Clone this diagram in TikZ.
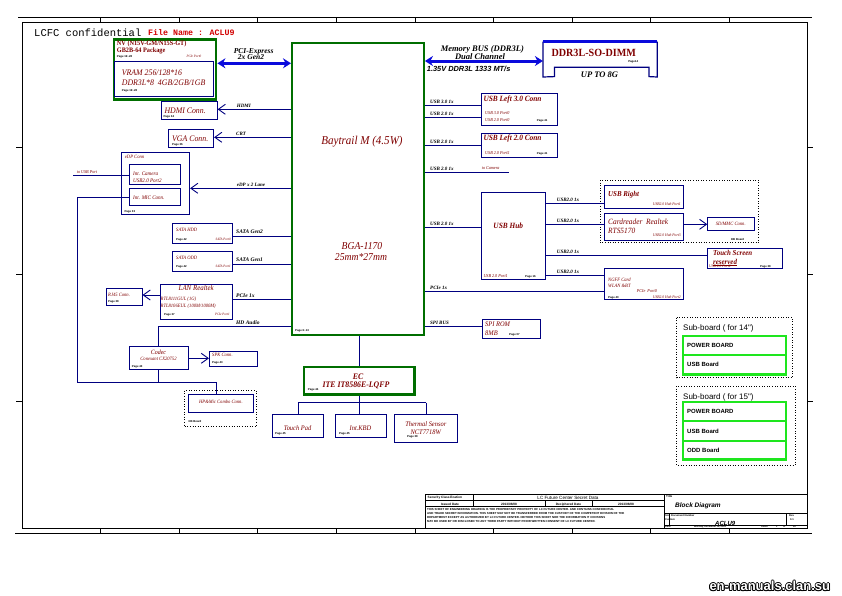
\documentclass[tikz,border=0pt]{standalone}
\usepackage{fontspec}
\setmainfont{Liberation Serif}
\newfontfamily\tms[FakeStretch=0.92]{Liberation Serif}
\newfontfamily\arl{Liberation Sans}
\newfontfamily\cour{Liberation Mono}
\usetikzlibrary{arrows.meta}
\newcommand\fsz[1]{\fontsize{#1}{#1}\selectfont}
\definecolor{lnblue}{RGB}{0,0,128}
\definecolor{dred}{RGB}{128,0,0}
\definecolor{dgreen}{RGB}{0,110,0}
\definecolor{bgreen}{RGB}{30,230,30}
\definecolor{arrblue}{RGB}{10,10,220}
\definecolor{fred}{RGB}{210,0,0}
\tikzset{
  bx/.style={draw=lnblue, line width=0.8pt, inner sep=0pt, anchor=north west},
  gbx/.style={draw=dgreen, line width=2.4pt, inner sep=0pt, anchor=north west},
  sbx/.style={draw=bgreen, line width=2.4pt, inner sep=0pt, anchor=north west, minimum width=103.3pt},
  dotbx/.style={draw=black, dotted, line width=0.6pt},
  ln/.style={draw=lnblue, line width=0.9pt},
  oarr/.style={ln, -{Straight Barb[length=7pt,width=10pt,line width=0.9pt]}},
  barr/.style={draw=arrblue, line width=3pt, {Stealth[length=8pt,width=10pt]}-{Stealth[length=8pt,width=10pt]}},
  ttl/.style={text=dred, font=\tms\itshape\fsz{#1}, inner sep=0pt, anchor=base west},
  ttl/.default=8.5,
  bt/.style={text=dred, font=\tms\bfseries\itshape\fsz{#1}, inner sep=0pt, anchor=base west},
  bt/.default=8,
  btu/.style={text=dred, font=\tms\bfseries\fsz{#1}, inner sep=0pt, anchor=base west},
  lbl/.style={text=black, font=\rmfamily\bfseries\itshape\fsz{#1}, inner sep=0pt, anchor=base west},
  lbl/.default=5,
  sm/.style={text=dred, font=\tms\itshape\fsz{#1}, inner sep=0pt, anchor=base west},
  sm/.default=4,
  pg/.style={text=black, font=\arl\bfseries\fsz{2.8}, inner sep=0pt, anchor=base west},
  tbt/.style={text=black, font=\arl\bfseries\fsz{#1}, inner sep=0pt, anchor=base west},
  tbt/.default=3,
  subh/.style={text=black, font=\arl\fsz{8}, inner sep=0pt, anchor=base west},
  sbt/.style={text=black, font=\arl\bfseries\fsz{6}, inner sep=0pt, anchor=base west},
  wm/.style={font=\arl\bfseries\fsz{13}, inner sep=0pt, anchor=base west},
  frm/.style={draw=black, line width=0.7pt},
}
\begin{document}
\begin{tikzpicture}[x=1pt,y=-1pt]
\useasboundingbox[fill=white] (0,0) rectangle (842,595);
% frame
\draw[frm] (22.3,22.3) rectangle (807,528.3);
\draw[frm] (18,17.3) -- (812,17.3);
\draw[frm] (15,533.8) -- (812,533.8);
\foreach \x in {100.6,179.2,257.8,336.4,415,493.6,572.2,650.8,729.4}{
  \draw[frm] (\x,17.3) -- (\x,22.3);
  \draw[frm] (\x,533.8) -- (\x,528.3);
}
\foreach \y in {147.5,274,401}{
  \draw[frm] (22.3,\y) -- (16,\y);
  \draw[frm] (807,\y) -- (813,\y);
}
\node[font=\cour\fsz{10.5}, inner sep=0pt, anchor=base west] (lcfc) at (34,36) {LCFC confidential};
\node[font=\cour\bfseries\fsz{8.3}, text=fred, inner sep=0pt, anchor=base west] (fname) at (148,35) {File Name : ACLU9};

% GPU
\node[gbx, minimum width=102.3pt, minimum height=60pt] (gpu) at (112.7,38.3) {};
\node[btu=6.8] (gpu1) at (116.7,45.2) {NV (N15V-GM/N15S-GT)};
\node[btu=6.8] (gpu2) at (116.7,52.3) {GB2B-64 Package};
\node[pg] (gpu3) at (116.7,57.7) {Page 19\textasciitilde28};
\node[sm=3.5, anchor=base east] (gpu4) at (201.5,57.7) {PCIe Port0};
\node[bx, minimum width=98.7pt, minimum height=35.3pt] (vram) at (114,60.7) {};
\node[ttl=8.5] (vram1) at (121.7,75) {VRAM 256/128*16};
\node[ttl=8.5] (vram2) at (121.7,85.7) {DDR3L*8~~4GB/2GB/1GB};
\node[pg] (vram3) at (121.7,91.3) {Page 19\textasciitilde28};

% Baytrail
\node[gbx, minimum width=131.5pt, minimum height=292pt] (bay) at (291,42) {};
\node[ttl=12, anchor=base] (bayT) at (362,144) {Baytrail M (4.5W)};
\node[ttl=10.5, anchor=base] (bga1) at (362,249) {BGA-1170};
\node[ttl=10.5, anchor=base] (bga2) at (361,260) {25mm*27mm};
\node[pg] (bayP) at (295,331.5) {Page 6\textasciitilde13};

\draw[barr] (gpu.east |- 0,63.3) -- (bay.west |- 0,63.3);
\node[lbl=7.5, anchor=base] (pci1) at (253.7,53.5) {PCI-Express};
\node[lbl=7.5, anchor=base] (pci2) at (251,59.5) {2x Gen2};

% DDR
\node[inner sep=0pt, anchor=north west, minimum width=114pt, minimum height=34.9pt] (ddr) at (542.9,41.7) {};
\draw[barr] (bay.east |- 0,61) -- (ddr.west |- 0,61);
\node[lbl=8.5, anchor=base] (mem1) at (482.3,51.7) {Memory BUS (DDR3L)};
\node[lbl=8.5, anchor=base] (mem2) at (480,59) {Dual Channel};
\node[text=black, font=\arl\bfseries\itshape\fsz{7.4}, inner sep=0pt, anchor=base west] (mem3) at (426.7,71.5) {1.35V DDR3L 1333 MT/s};
\draw[draw=lnblue, line width=1.2pt] (ddr.north west) -- (ddr.south west) -- (554.5,76.6) -- (554.5,67.2) -- (648.9,67.2) -- (648.9,76.6) -- (ddr.south east) -- (ddr.north east);
\draw[draw=arrblue, line width=2.5pt] (ddr.north west) -- (ddr.north east);
\node[btu=11, anchor=base] (ddrT) at (593.7,56.7) {DDR3L-SO-DIMM};
\node[pg, anchor=base east] (ddrP) at (638.3,62.6) {Page14};
\node[lbl=8.5, anchor=base] (ddrU) at (599.5,77.7) {UP TO 8G};

% HDMI
\node[bx, minimum width=56.2pt, minimum height=17.5pt] (hdmi) at (160.6,101.4) {};
\node[ttl=8.5] (hdmiT) at (164.3,113.3) {HDMI Conn.};
\node[pg] (hdmiP) at (163.3,117.7) {Page 34};
\draw[oarr] (bay.west |- 0,109.3) -- (hdmi.east |- 0,109.3);
\node[lbl=5] (hdmiL) at (236.7,107.3) {HDMI};
% VGA
\node[bx, minimum width=45pt, minimum height=18.3pt] (vga) at (168.3,129) {};
\node[ttl=8.5] (vgaT) at (172,141.7) {VGA Conn.};
\node[pg] (vgaP) at (172,145.7) {Page 36};
\draw[oarr] (bay.west |- 0,137.3) -- (vga.east |- 0,137.3);
\node[lbl=5] (vgaL) at (236,135) {CRT};
% eDP
\node[bx, minimum width=68.3pt, minimum height=62pt] (edp) at (121,152.3) {};
\node[sm=5] (edpT) at (124.7,158.3) {eDP Conn};
\node[bx, minimum width=51pt, minimum height=20pt] (cam) at (129,164.3) {};
\node[sm=5.5] (cam1) at (133,175) {Int. Camera};
\node[sm=5.5] (cam2) at (133,182.3) {USB2.0 Port2};
\node[bx, minimum width=51pt, minimum height=16.7pt] (mic) at (129,188.3) {};
\node[sm=5.5] (micT) at (133,199) {Int. MIC Conn.};
\node[pg] (edpP) at (124.3,212.7) {Page 33};
\coordinate (usbfree) at (73.3,175.5);
\draw[ln] (usbfree) -- (usbfree -| cam.west);
\node[sm=4.5] (usbL) at (76.7,173.7) {to USB Port};
\draw[oarr] (bay.west |- 0,188.3) -- (edp.east |- 0,188.3);
\node[lbl=5] (edpL) at (236.7,186.7) {eDP x 2 Lane};
% SATA
\node[bx, minimum width=60pt, minimum height=20pt] (hdd) at (172.3,223.3) {};
\node[sm=5] (hddT) at (176,231.7) {SATA HDD};
\node[pg] (hddP) at (176,240) {Page 42};
\node[sm=3.5, anchor=base east] (hddS) at (231,240) {SATA Port0};
\draw[ln] (hdd.east |- 0,236) -- (bay.west |- 0,236);
\node[lbl=5.5] (hddL) at (236,233) {SATA Gen2};
\node[bx, minimum width=60pt, minimum height=20pt] (odd) at (172.3,251) {};
\node[sm=5] (oddT) at (176,259.3) {SATA ODD};
\node[pg] (oddP) at (176,267.7) {Page 42};
\node[sm=3.5, anchor=base east] (oddS) at (231,267.7) {SATA Port1};
\draw[ln] (odd.east |- 0,264.3) -- (bay.west |- 0,264.3);
\node[lbl=5.5] (oddL) at (236,261) {SATA Gen1};
% LAN
\node[bx, minimum width=36pt, minimum height=17.3pt] (rj) at (105.7,287.7) {};
\node[sm=5] (rjT) at (108,296.7) {RJ45 Conn.};
\node[pg] (rjP) at (108,302.7) {Page 38};
\node[bx, minimum width=72.3pt, minimum height=35.3pt] (lan) at (160,284) {};
\node[ttl=7.5, anchor=base] (lanT) at (196.2,290.5) {LAN Realtek};
\node[sm=5] (lan1) at (160.5,300) {RTL8111GUL (1G)};
\node[sm=5] (lan2) at (160.5,307.7) {RTL8106EUL (100M/1000M)};
\node[pg] (lanP) at (164,315) {Page 37};
\node[sm=3.5, anchor=base east] (lanS) at (230,315) {PCIe Port1};
\draw[oarr] (lan.west |- 0,295) -- (rj.east |- 0,295);
\draw[ln] (lan.east |- 0,299) -- (bay.west |- 0,299);
\node[lbl=5.5] (lanL) at (236,297) {PCIe 1x};
% Audio
\node[bx, minimum width=58.4pt, minimum height=23pt] (codec) at (129.3,346) {};
\node[ttl=6.5, anchor=base] (codT) at (158.5,354.3) {Codec};
\node[sm=5, anchor=base] (cod2) at (158.5,360.3) {Conexant CX20752};
\node[pg] (codP) at (131.7,367) {Page 43};
\node[bx, minimum width=47.7pt, minimum height=15pt] (spk) at (209,350.7) {};
\node[sm=5] (spkT) at (212,356.3) {SPK Conn.};
\node[pg] (spkP) at (212,363.3) {Page 43};
\draw[oarr] (codec.east |- 0,358.3) -- (spk.west |- 0,358.3);
\draw[ln] (bay.west |- 0,326.7) -| (codec.north);
\node[lbl=5.5] (audL) at (236,324) {HD Audio};
\draw[dotbx] (184.3,390.7) rectangle (256,426.7);
\node[bx, minimum width=64.4pt, minimum height=18pt] (hpm) at (188.3,394.3) {};
\node[sm=5, anchor=base] (hpmT) at (hpm.center) {HP\&Mic Combo Conn.};
\node[pg] (hpmP) at (188.3,422.3) {DB Board};
\draw[ln] (mic.west) -- (77.3,0 |- mic.west) -- (77.3,382.3) -- (216,382.3) -- (216,0 |- hpm.north);
\draw[ln] (codec.south) -- (codec.south |- 0,382.3);

% USB left
\node[bx, minimum width=75.7pt, minimum height=31.7pt] (usb3) at (481,93.3) {};
\node[bt=8] (usb3T) at (483.3,101) {USB Left 3.0 Conn};
\node[sm=4.5] (usb31) at (485,114.3) {USB 3.0 Port0};
\node[sm=4.5] (usb32) at (485,121) {USB 2.0 Port0};
\node[pg] (usb3P) at (536.7,121) {Page 41};
\draw[ln] (bay.east |- 0,105) -- (usb3.west |- 0,105);
\draw[ln] (bay.east |- 0,117.3) -- (usb3.west |- 0,117.3);
\node[lbl=5] (usb3L1) at (430,103.3) {USB 3.0 1x};
\node[lbl=5] (usb3L2) at (430,115.3) {USB 2.0 1x};
\node[bx, minimum width=75.7pt, minimum height=23.3pt] (usb2) at (481,133.3) {};
\node[bt=8] (usb2T) at (483.3,140.5) {USB Left 2.0 Conn};
\node[sm=4.5] (usb21) at (485,154.3) {USB 2.0 Port5};
\node[pg] (usb2P) at (536.7,154.3) {Page 41};
\draw[ln] (bay.east |- 0,145) -- (usb2.west |- 0,145);
\node[lbl=5] (usb2L) at (430,143) {USB 2.0 1x};
\coordinate (camfree) at (509.3,172.7);
\draw[ln] (bay.east |- camfree) -- (camfree);
\node[lbl=5] (camL) at (430,170.7) {USB 2.0 1x};
\node[sm=4.5] (camT) at (481.7,169.3) {to Camera};

% USB hub
\node[bx, minimum width=64pt, minimum height=86.7pt] (hub) at (481,192.3) {};
\node[bt=8, anchor=base] (hubT) at (508.3,228.3) {USB Hub};
\node[sm=4.5] (hub1) at (483.3,277.3) {USB 2.0 Port1};
\node[pg] (hubP) at (525,277.3) {Page 16};
\draw[ln] (bay.east |- 0,227.7) -- (hub.west |- 0,227.7);
\node[lbl=5] (hubL) at (430,225.7) {USB 2.0 1x};
\draw[dotbx] (600,180) rectangle (758.3,242.7);
\node[bx, minimum width=79pt, minimum height=23.3pt] (usbr) at (604.3,185) {};
\node[bt=7.5] (usbrT) at (608,196) {USB Right};
\node[sm=4, anchor=base east] (usbr1) at (681,205.7) {USB2.0 Hub Port1};
\node[bx, minimum width=79pt, minimum height=27.3pt] (card) at (604.3,212.7) {};
\node[ttl=8] (card1) at (608,224.3) {Cardreader~~Realtek};
\node[ttl=8] (card2) at (608,233.3) {RTS5170};
\node[sm=4, anchor=base east] (card3) at (681,236.7) {USB2.0 Hub Port3};
\node[bx, minimum width=46.7pt, minimum height=13.3pt] (sd) at (707.3,216.7) {};
\node[sm=5, anchor=base] (sdT) at (730.7,225.3) {SD/MMC Conn.};
\node[pg] (sdP) at (731,240.7) {DB Board};
\draw[oarr] (card.east |- 0,224.3) -- (sd.west |- 0,224.3);
\node[bx, minimum width=75pt, minimum height=20.7pt] (ts) at (707.3,247.7) {};
\node[bt=7.5] (ts1) at (713,255) {Touch Screen};
\node[bt=7.5] (ts2) at (713,264) {\underline{reserved}};
\node[sm=4] (ts3) at (709,267.7) {USB 2.0 Port2};
\node[pg] (tsP) at (760,267.7) {Page 38};
\node[bx, minimum width=79pt, minimum height=31.6pt] (ngff) at (604.3,267.7) {};
\node[sm=5] (ng1) at (608,281) {NGFF Card};
\node[sm=5] (ng2) at (608,287.7) {WLAN \&BT};
\node[sm=4.5] (ng3) at (636.7,292.7) {PCIe~ Port0};
\node[pg] (ngP) at (608,298.3) {Page 40};
\node[sm=4, anchor=base east] (ng4) at (681,298.3) {USB2.0 Hub Port2};
\draw[ln] (hub.east |- 0,203.3) -- (usbr.west |- 0,203.3);
\node[lbl=5] (hl1) at (556.7,201.3) {USB2.0 1x};
\draw[ln] (hub.east |- 0,224) -- (card.west |- 0,224);
\node[lbl=5] (hl2) at (556.7,222) {USB2.0 1x};
\draw[ln] (hub.east |- 0,255) -- (ts.west |- 0,255);
\node[lbl=5] (hl3) at (556.7,253) {USB2.0 1x};
\draw[ln] (hub.east |- 0,275.3) -- (ngff.west |- 0,275.3);
\node[lbl=5] (hl4) at (556.7,273.3) {USB2.0 1x};
\draw[ln] (bay.east |- 0,291) -- (ngff.west |- 0,291);
\node[lbl=5] (pcL) at (430,289) {PCIe 1x};
% SPI
\node[bx, minimum width=58.3pt, minimum height=19pt] (spi) at (481.7,319.3) {};
\node[ttl=7] (spi1) at (485,326) {SPI ROM};
\node[ttl=7] (spi2) at (485,335) {8MB};
\node[pg] (spiP) at (509,335.3) {Page 07};
\draw[ln] (bay.east |- 0,326.7) -- (spi.west |- 0,326.7);
\node[lbl=5] (spiL) at (430,324.7) {SPI BUS};

% EC
\node[gbx, minimum width=110.6pt, minimum height=27.6pt] (ec) at (302.7,365.7) {};
\node[bt=8.5, anchor=base] (ec1) at (358,379) {EC};
\node[bt=8.5, anchor=base] (ec2) at (356,387.3) {ITE IT8586E-LQFP};
\node[pg] (ecP) at (307.7,390.7) {Page 44};
\draw[ln] (ec.north) -- (ec.north |- bay.south);
\node[bx, minimum width=50.5pt, minimum height=22.5pt] (tp) at (272.3,414) {};
\node[ttl=7, anchor=base] (tpT) at (297.5,430) {Touch Pad};
\node[pg] (tpP) at (275,434.5) {Page 45};
\node[bx, minimum width=51pt, minimum height=23pt] (kbd) at (335,414.3) {};
\node[ttl=7, anchor=base] (kbdT) at (360.5,430) {Int.KBD};
\node[pg] (kbdP) at (339,434.7) {Page 45};
\node[bx, minimum width=63pt, minimum height=27.4pt] (th) at (394.3,414.3) {};
\node[ttl=7, anchor=base] (th1) at (425.8,426) {Thermal Sensor};
\node[ttl=7, anchor=base] (th2) at (425.8,434) {NCT7718W};
\node[pg] (thP) at (407,437.3) {Page 38};
\draw[ln] (ec.south) -- (ec.south |- 0,402.7);
\draw[ln] (tp.north |- 0,402.7) -- (th.north |- 0,402.7);
\draw[ln] (tp.north |- 0,402.7) -- (tp.north);
\draw[ln] (ec.south |- 0,402.7) -- (ec.south |- kbd.north);
\draw[ln] (th.north |- 0,402.7) -- (th.north);

% Sub-boards
\draw[dotbx] (676.5,317.7) rectangle (792.5,377.5);
\node[subh] (sb1) at (683,330.7) {Sub-board ( for 14")};
\node[sbx, minimum height=19pt] (pw1) at (681.7,335) {};
\node[sbt] (pw1T) at (687,347.5) {POWER BOARD};
\node[sbx, minimum height=19.3pt] (ub1) at (681.7,354) {};
\node[sbt] (ub1T) at (687,366.5) {USB Board};
\draw[dotbx] (676.5,386) rectangle (795,465);
\node[subh] (sb2) at (683,399.3) {Sub-board ( for 15")};
\node[sbx, minimum height=19pt] (pw2) at (681.7,401) {};
\node[sbt] (pw2T) at (687,413.5) {POWER BOARD};
\node[sbx, minimum height=20pt] (ub2) at (681.7,420) {};
\node[sbt] (ub2T) at (687,433) {USB Board};
\node[sbt] (od2T) at (687,452.5) {ODD Board};
\node[sbx, minimum height=18.3pt] (od2) at (681.7,440) {};

% title block
\draw[frm] (425.7,494) rectangle (807,528.3);
\draw[frm] (425.7,500.3) -- (664,500.3);
\draw[frm] (425.7,506.3) -- (664,506.3);
\draw[frm] (473.3,494) -- (473.3,506.3);
\draw[frm] (545,500.3) -- (545,506.3);
\draw[frm] (592.3,500.3) -- (592.3,506.3);
\draw[frm] (664,494) -- (664,528.3);
\draw[frm] (664,513.3) -- (807,513.3);
\draw[frm] (664,525.7) -- (807,525.7);
\draw[frm] (669,513.3) -- (669,525.7);
\draw[frm] (786.7,513.3) -- (786.7,525.7);
\node[tbt=3.2] (tb1) at (427.5,498.8) {Security Classification};
\node[text=black, font=\arl\fsz{4.6}, inner sep=0pt, anchor=base] (tb2) at (568,499.2) {LC Future Center Secret Data};
\node[tbt=3.2, anchor=base] (tb3) at (450,505) {Issued Date};
\node[tbt=3.2, anchor=base] (tb4) at (509,505) {2013/08/08};
\node[tbt=3.2, anchor=base] (tb5) at (568.5,505) {Deciphered Date};
\node[tbt=3.2, anchor=base] (tb6) at (626,505) {2013/08/08};
\node[tbt=2.9] (tb7) at (427,510.5) {THIS SHEET OF ENGINEERING DRAWING IS THE PROPRIETARY PROPERTY OF LC FUTURE CENTER. AND CONTAINS CONFIDENTIAL};
\node[tbt=2.9] (tb8) at (427,514.5) {AND TRADE SECRET INFORMATION. THIS SHEET MAY NOT BE TRANSFERRED FROM THE CUSTODY OF THE COMPETENT DIVISION OF THE};
\node[tbt=2.9] (tb9) at (427,518.5) {DEPARTMENT EXCEPT AS AUTHORIZED BY LC FUTURE CENTER. NEITHER THIS SHEET NOR THE INFORMATION IT CONTAINS};
\node[tbt=2.9] (tb10) at (427,522.5) {MAY BE USED BY OR DISCLOSED TO ANY THIRD PARTY WITHOUT PRIOR WRITTEN CONSENT OF LC FUTURE CENTER.};
\node[tbt=3] (tt1) at (666,497.8) {Title};
\node[text=black, font=\arl\bfseries\itshape\fsz{6.5}, inner sep=0pt, anchor=base west] (tt2) at (675,507.3) {Block Diagram};
\node[tbt=2.6] (tt3) at (665,516.3) {Size};
\node[tbt=2.6] (tt4) at (671,516.3) {Document Number};
\node[tbt=2.6] (tt5) at (665,520) {Custom};
\node[tbt=2.6] (tt6) at (789,516.3) {Rev};
\node[tbt=2.6] (tt7) at (790,520.5) {0.1};
\node[text=black, font=\arl\bfseries\itshape\fsz{6}, inner sep=0pt, anchor=base west] (tt8) at (715,525) {ACLU9};
\node[tbt=2.4] (tt9) at (665,527.9) {Date:};
\node[tbt=2.4] (tt10) at (694,527.9) {Monday, December 16, 2013};
\node[tbt=2.4] (tt11) at (761,527.9) {Sheet};
\node[tbt=2.4] (tt12) at (776,527.9) {1};
\node[tbt=2.4] (tt13) at (783,527.9) {of};
\node[tbt=2.4] (tt14) at (793,527.9) {50};

% watermark
\foreach \dx/\dy [count=\i] in {-0.8/0,0.8/0,0/-0.8,0/0.8,-0.6/-0.6,0.6/0.6,-0.6/0.6,0.6/-0.6}{
  \node[wm, text=black] (wmo\i) at ([shift={(\dx,\dy)}]709.3,590.7) {en-manuals.clan.su};
}
\node[wm, text=white] (wmk) at (709.3,590.7) {en-manuals.clan.su};
\end{tikzpicture}
\end{document}
